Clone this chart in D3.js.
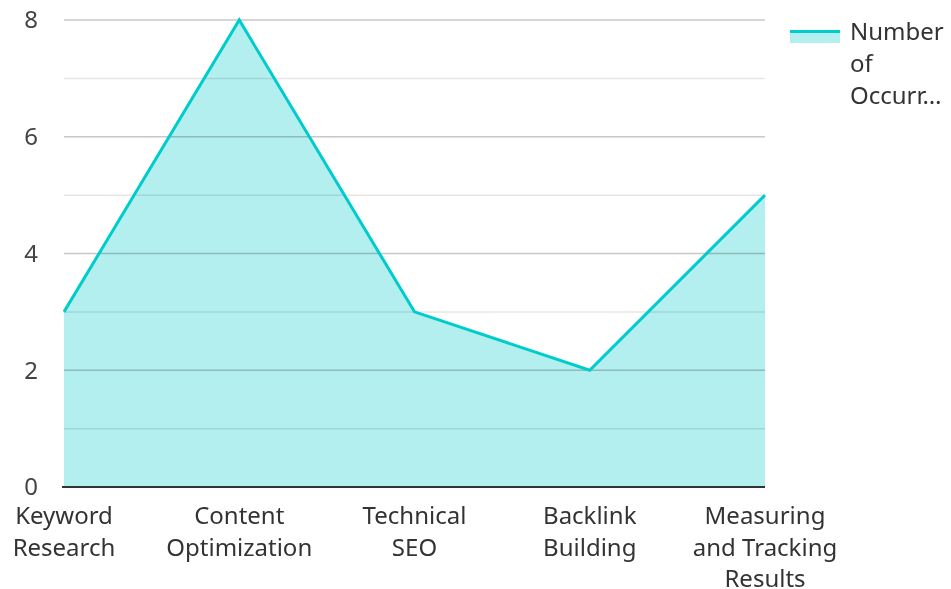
<!DOCTYPE html>
<html><head><meta charset="utf-8">
<script src="https://cdn.jsdelivr.net/npm/d3@7"></script>
<style>body{margin:0;background:#fff;}svg{display:block;font-family:"Noto Sans",sans-serif;}</style>
</head><body>
<svg id="c" width="951" height="589"></svg>
<script>
const categories = [["Keyword","Research"],["Content","Optimization"],["Technical","SEO"],["Backlink","Building"],["Measuring","and Tracking","Results"]];
const values = [3, 8, 3, 2, 5];
const yTicks = [0, 2, 4, 6, 8];
const minorTicks = [1, 3, 5, 7];
const legendLines = ["Number", "of", "Occurr…"];

const svg = d3.select("#c");
const plotL = 64, plotR = 765, plotT = 20, plotB = 487;
const x = d3.scalePoint().domain(d3.range(values.length)).range([plotL, plotR]);
const y = d3.scaleLinear().domain([0, 8]).range([plotB, plotT]);
const lineCol = "#00cccc", fillCol = "#b2efee";
const fs = 24;

svg.append("g").selectAll("line").data(minorTicks).join("line")
  .attr("x1", plotL).attr("x2", plotR).attr("y1", d => y(d)).attr("y2", d => y(d))
  .attr("stroke", "#e6e6e6").attr("stroke-width", 1.5);
svg.append("g").selectAll("line").data(yTicks.filter(d => d > 0)).join("line")
  .attr("x1", plotL).attr("x2", plotR).attr("y1", d => y(d)).attr("y2", d => y(d))
  .attr("stroke", "#c8c8c8").attr("stroke-width", 1.5);

const area = d3.area().x((d, i) => x(i)).y0(y(0)).y1(d => y(d));
svg.append("path").datum(values).attr("d", area).attr("fill", fillCol).style("mix-blend-mode", "multiply");
svg.append("path").datum(values).attr("d", d3.line().x((d, i) => x(i)).y(d => y(d)))
  .attr("fill", "none").attr("stroke", lineCol).attr("stroke-width", 3).attr("stroke-linejoin", "miter");

svg.append("line").attr("x1", plotL - 2).attr("x2", plotR).attr("y1", y(0)).attr("y2", y(0))
  .attr("stroke", "#333").attr("stroke-width", 2);

svg.append("g").selectAll("text").data(yTicks).join("text")
  .attr("x", 38).attr("y", d => y(d)).attr("dy", "0.35em").attr("text-anchor", "end")
  .attr("font-size", fs).attr("fill", "#444").text(d => d);

const xl = svg.append("g").selectAll("text").data(categories).join("text")
  .attr("text-anchor", "middle").attr("font-size", fs).attr("fill", "#333");
xl.each(function(d, i) {
  d3.select(this).selectAll("tspan").data(d).join("tspan")
    .attr("x", x(i)).attr("y", (t, j) => 524 + j * 31.5).text(t => t);
});

const lg = svg.append("g");
lg.append("rect").attr("x", 790).attr("y", 31).attr("width", 50).attr("height", 12).attr("fill", fillCol);
lg.append("line").attr("x1", 790).attr("x2", 840).attr("y1", 31.5).attr("y2", 31.5).attr("stroke", lineCol).attr("stroke-width", 3);
lg.selectAll("text").data(legendLines).join("text")
  .attr("x", 850).attr("y", (d, i) => 32 + i * 32).attr("dy", "0.35em")
  .attr("font-size", fs).attr("fill", "#333").text(d => d);
</script>
</body></html>
